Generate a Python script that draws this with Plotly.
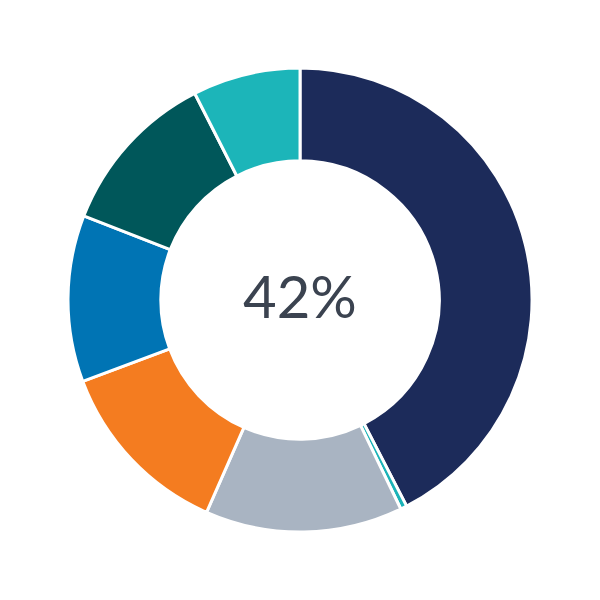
import plotly.graph_objects as go

# slice shares, clockwise from 12 o'clock
labels = ['A', 'B', 'C', 'D', 'E', 'F', 'G']
values = [42.4, 0.45, 13.75, 12.7, 11.6, 11.6, 7.5]
colors = ['#1c2b5a', '#1bb3b8', '#a9b4c2', '#f47c20', '#0074b4', '#00575a', '#1cb5b9']
center_text = '42%'

# page body adds an 8px offset, so centre the donut a bit up-left
cx, cy, r = 0.4867, 0.5133, 0.3867

fig = go.Figure()
fig.add_trace(go.Pie(
    labels=labels,
    values=values,
    hole=0.6,
    sort=False,
    direction='clockwise',
    rotation=0,
    marker={'colors': colors, 'line': {'color': 'white', 'width': 3}},
    textinfo='none',
    hoverinfo='label+percent',
    showlegend=False,
    domain={'x': [cx - r, cx + r], 'y': [cy - r, cy + r]}
))
fig.add_annotation(
    text=center_text, x=cx, y=cy, xref='paper', yref='paper', yshift=5,
    showarrow=False, font={'family': 'Lato', 'size': 58, 'color': '#3b4350'}
)
fig.update_layout(
    width=600, height=600,
    margin={'l': 0, 'r': 0, 't': 0, 'b': 0},
    paper_bgcolor='white', plot_bgcolor='white'
)
fig.write_html('out.html')
